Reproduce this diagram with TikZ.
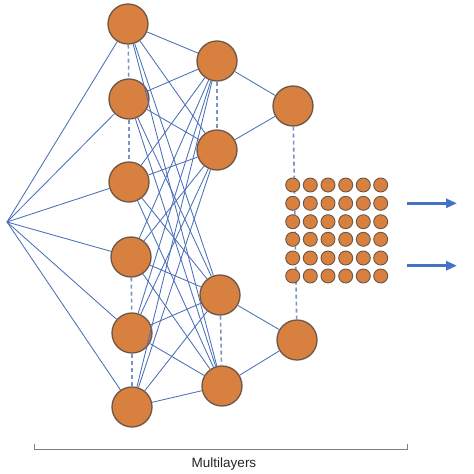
\documentclass[tikz,border=0pt]{standalone}
\usepackage{fontspec}
\setmainfont{Liberation Sans}
\usetikzlibrary{arrows.meta}
\definecolor{nodeor}{HTML}{D8803F}
\definecolor{nodeed}{HTML}{6E5646}
\definecolor{linkb}{HTML}{4A6FB8}
\definecolor{dashb}{HTML}{7C93C4}
\definecolor{arrb}{HTML}{4472C4}
\definecolor{brk}{HTML}{808080}
\begin{document}
\begin{tikzpicture}[x=1pt,y=-1pt,
  neuron/.style={circle,fill=nodeor,draw=nodeed,line width=1.3pt,minimum size=40pt,inner sep=0pt},
  cell/.style={circle,fill=nodeor,draw=nodeed,line width=0.9pt,minimum size=14pt,inner sep=0pt},
  link/.style={draw=linkb,line width=0.85pt},
  dots/.style={draw=dashb,dash pattern=on 4pt off 3pt,line width=1.6pt},
  outarrow/.style={draw=arrb,line width=2.8pt,-{Triangle[length=11pt,width=9pt]}},
  bracketline/.style={draw=brk,line width=1pt},
  caption/.style={font=\fontsize{13.5}{15}\selectfont,text=black!85}]
\useasboundingbox (0,0) rectangle (474,474);
% input point
\coordinate (in) at (7,222);
% layer 1
\node[neuron] (a1) at (128,24) {};
\node[neuron] (a2) at (129,99) {};
\node[neuron] (a3) at (129,182) {};
\node[neuron] (a4) at (131,257) {};
\node[neuron] (a5) at (132,333) {};
\node[neuron] (a6) at (132,407) {};
% layer 2
\node[neuron] (b1) at (217,61) {};
\node[neuron] (b2) at (217,150) {};
\node[neuron] (b3) at (220,295) {};
\node[neuron] (b4) at (222,386) {};
% layer 3
\node[neuron] (c1) at (293,106) {};
\node[neuron] (c2) at (297,340) {};
% dashed vertical
\draw[dots] (a1) -- (a2);
\draw[dots] (a2) -- (a3);
\draw[dots] (a4) -- (a5);
\draw[dots] (a5) -- (a6);
\draw[dots] (b1) -- (b2);
\draw[dots] (b3) -- (b4);
\draw[dots] (c1) -- (c2);
% input links
\foreach \i in {1,...,6} \draw[link] (in) -- (a\i);
% layer1 -> layer2
\foreach \i in {1,...,6} \foreach \j in {1,...,4} \draw[link] (a\i) -- (b\j);
% layer2 -> layer3
\draw[link] (b1) -- (c1);
\draw[link] (b2) -- (c1);
\draw[link] (b3) -- (c2);
\draw[link] (b4) -- (c2);
% grid
\foreach \r/\y in {1/185,2/203.3,3/221.7,4/239.3,5/258,6/276}
  \foreach \c/\x in {1/292.7,2/310.3,3/328,4/345.7,5/363.3,6/380.7}
    \node[cell] (g\r\c) at (\x,\y) {};
% output arrows
\coordinate (o1s) at (407,203.3);
\coordinate (o1e) at (457,203.3);
\coordinate (o2s) at (407,265.7);
\coordinate (o2e) at (457,265.7);
\draw[outarrow] (o1s) -- (o1e);
\draw[outarrow] (o2s) -- (o2e);
% bracket
\coordinate (bl) at (34.5,443.5);
\coordinate (blb) at (34.5,449.5);
\coordinate (brb) at (407.5,449.5);
\coordinate (br) at (407.5,443.5);
\draw[bracketline] (bl) -- (blb) -- (brb) -- (br);
\node[caption,anchor=base] (cap) at (224,467.7) {Multilayers};
\end{tikzpicture}
\end{document}
